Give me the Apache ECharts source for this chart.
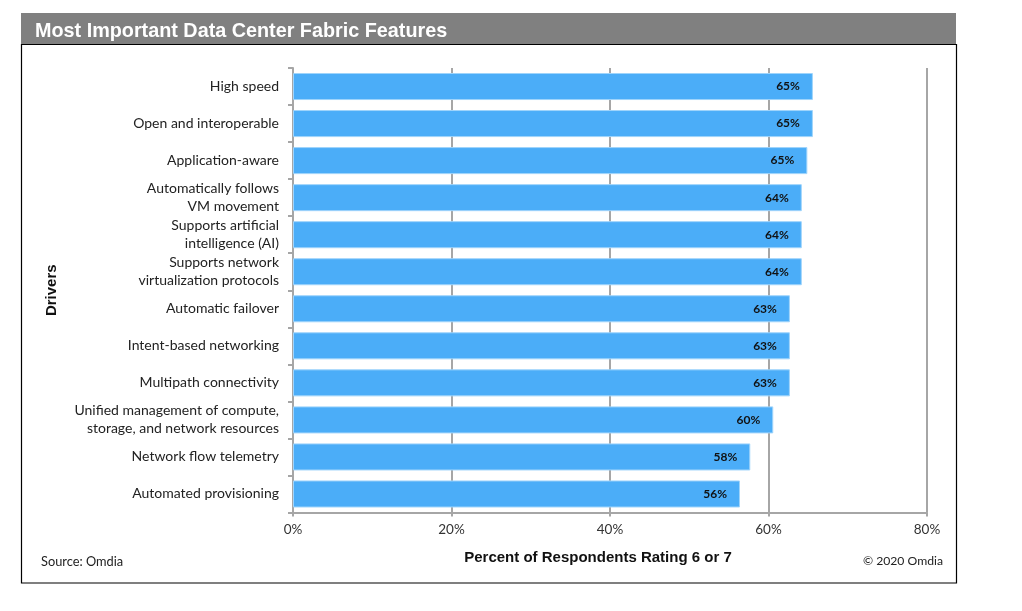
<!DOCTYPE html>
<html>
<head>
<meta charset="utf-8">
<script src="https://cdn.jsdelivr.net/npm/echarts@6/dist/echarts.min.js"></script>
<style>
  html, body { margin: 0; padding: 0; background: #fff; }
  #chart { width: 1022px; height: 611px; }
</style>
</head>
<body>
<div id="chart"></div>
<script>
// data
var drivers = [
  'High speed',
  'Open and interoperable',
  'Application-aware',
  'Automatically follows\nVM movement',
  'Supports artificial\nintelligence (AI)',
  'Supports network\nvirtualization protocols',
  'Automatic failover',
  'Intent-based networking',
  'Multipath connectivity',
  'Unified management of compute,\nstorage, and network resources',
  'Network flow telemetry',
  'Automated provisioning'
];
var percent = [65.6, 65.6, 64.9, 64.2, 64.2, 64.2, 62.7, 62.7, 62.7, 60.6, 57.7, 56.4];
var percentLabels = ['65%', '65%', '65%', '64%', '64%', '64%', '63%', '63%', '63%', '60%', '58%', '56%'];
var xTicks = [0, 20, 40, 60, 80];

var chart = echarts.init(document.getElementById('chart'));
var gray = '#a6a6a6';

var option = {
  backgroundColor: '#fff',
  animation: false,
  textStyle: { fontFamily: 'Lato' },
  grid: { left: 293, right: 95, top: 68, bottom: 98.5 },
  graphic: [
    { type: 'rect', shape: { x: 21, y: 13, width: 935, height: 31 }, style: { fill: '#808080' }, z: 0 },
    { type: 'rect', shape: { x: 21.5, y: 44.5, width: 935, height: 538.5 }, style: { fill: 'none', stroke: '#000', lineWidth: 1.2 }, z: 0 },
    { type: 'text', left: 35, top: 22, style: { text: 'Most Important Data Center Fabric Features', fill: '#fff', font: 'bold 19.8px "Liberation Sans", Arial' }, z: 10 },
    { type: 'text', left: 41, top: 555, style: { text: 'Source: Omdia', fill: '#222', font: '12.8px Lato' } },
    { type: 'text', right: 79, top: 555, style: { text: '\u00a9 2020 Omdia', fill: '#222', font: '12.2px Lato' } }
  ],
  xAxis: {
    type: 'value',
    min: 0,
    max: 80,
    interval: 20,
    name: 'Percent of Respondents Rating 6 or 7',
    nameLocation: 'middle',
    nameGap: 38,
    nameTextStyle: { fontWeight: 'bold', fontSize: 15, color: '#111', fontFamily: 'Liberation Sans', padding: [0, 24, 0, 0] },
    axisLine: { show: true, lineStyle: { color: gray, width: 2 } },
    axisTick: { show: true, length: 4, lineStyle: { color: gray, width: 2 } },
    axisLabel: {
      color: '#333', fontSize: 13.5, margin: 10,
      formatter: function (v) { return xTicks.indexOf(v) > -1 ? v + '%' : ''; }
    },
    splitLine: { show: true, lineStyle: { color: gray, width: 2 } }
  },
  yAxis: {
    type: 'category',
    inverse: true,
    data: drivers,
    name: 'Drivers',
    nameLocation: 'middle',
    nameRotate: 90,
    nameGap: 234,
    nameTextStyle: { fontWeight: 'bold', fontSize: 15, color: '#111', fontFamily: 'Liberation Sans' },
    axisLine: { show: true, lineStyle: { color: gray, width: 2 } },
    axisTick: { show: true, length: 5, lineStyle: { color: gray, width: 2 } },
    axisLabel: { color: '#222', fontSize: 14, margin: 14, lineHeight: 18, fontFamily: 'Lato' }
  },
  series: [{
    type: 'bar',
    data: percent,
    barCategoryGap: '27%',
    itemStyle: { color: '#4BADF8', borderColor: '#9fd4fb', borderWidth: 1 },
    label: {
      show: true,
      position: 'insideRight',
      distance: 13,
      color: '#111',
      fontSize: 12,
      fontWeight: 'bold',
      fontFamily: 'Lato',
      formatter: function (p) { return percentLabels[p.dataIndex]; }
    }
  }]
};

chart.setOption(option);
</script>
</body>
</html>
